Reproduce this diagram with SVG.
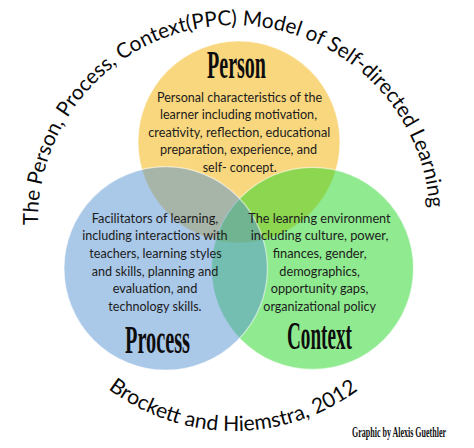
<svg xmlns="http://www.w3.org/2000/svg" width="474" height="448" viewBox="0 0 474 448">
<defs>
<style>
.arc{font-family:Lato,"Open Sans","Liberation Sans",sans-serif;font-size:21px;fill:#0a0a0a;}
.body{font-family:Lato,"Liberation Sans",sans-serif;font-size:12.5px;fill:#1c1c1c;}
.head{font-family:"Liberation Serif","DejaVu Serif",serif;font-weight:bold;font-size:40px;fill:#0d0d0d;}
.sig{font-family:"Liberation Serif","DejaVu Serif",serif;font-weight:bold;font-size:14px;fill:#111;}
.ring{stroke:#ffffff;stroke-opacity:0.55;stroke-width:1.2;}
</style>
<path id="titleArc" d="M38,225.1 A196,196 0 0 1 429.75,212.1"/>
<path id="creditArc" d="M108.2,388.9 A209,209 0 0 0 359.8,388.9"/>
</defs>
<rect width="474" height="448" fill="#ffffff"/>
<g id="circles">
<circle id="person-circle" class="ring" cx="239" cy="142" r="101" fill="#F9D77E"/>
<circle id="context-circle" class="ring" cx="312.5" cy="268.4" r="101" fill="rgb(33,213,33)" fill-opacity="0.5"/>
<circle id="process-circle" class="ring" cx="165.7" cy="268.4" r="101.7" fill="rgb(85,145,209)" fill-opacity="0.5"/>
</g>
<g id="person">
<text class="head" x="207" y="78.3" textLength="59" lengthAdjust="spacingAndGlyphs">Person</text>
<text class="body" x="157" y="101.7" textLength="165" lengthAdjust="spacingAndGlyphs">Personal characteristics of the</text>
<text class="body" x="160" y="119.2" textLength="157" lengthAdjust="spacingAndGlyphs">learner including motivation,</text>
<text class="body" x="148.3" y="136.8" textLength="182" lengthAdjust="spacingAndGlyphs">creativity, reflection, educational</text>
<text class="body" x="160" y="154.3" textLength="157" lengthAdjust="spacingAndGlyphs">preparation, experience, and</text>
<text class="body" x="202.7" y="171.8" textLength="74" lengthAdjust="spacingAndGlyphs">self- concept.</text>
</g>
<g id="process">
<text class="body" x="91.7" y="222.7" textLength="126.6" lengthAdjust="spacingAndGlyphs">Facilitators of learning,</text>
<text class="body" x="82.3" y="240.3" textLength="145.3" lengthAdjust="spacingAndGlyphs">including interactions with</text>
<text class="body" x="89.3" y="257.9" textLength="132.3" lengthAdjust="spacingAndGlyphs">teachers, learning styles</text>
<text class="body" x="91.7" y="275.5" textLength="126.7" lengthAdjust="spacingAndGlyphs">and skills, planning and</text>
<text class="body" x="112.7" y="293.2" textLength="84.7" lengthAdjust="spacingAndGlyphs">evaluation, and</text>
<text class="body" x="108.3" y="310.8" textLength="93.3" lengthAdjust="spacingAndGlyphs">technology skills.</text>
<text class="head" x="125" y="353" textLength="65" lengthAdjust="spacingAndGlyphs">Process</text>
</g>
<g id="context">
<text class="body" x="248.3" y="222.7" textLength="142.3" lengthAdjust="spacingAndGlyphs">The learning environment</text>
<text class="body" x="250.7" y="240.3" textLength="137.7" lengthAdjust="spacingAndGlyphs">including culture, power,</text>
<text class="body" x="272.7" y="257.9" textLength="94" lengthAdjust="spacingAndGlyphs">finances, gender,</text>
<text class="body" x="279.3" y="275.5" textLength="80.7" lengthAdjust="spacingAndGlyphs">demographics,</text>
<text class="body" x="270.7" y="293.2" textLength="97.7" lengthAdjust="spacingAndGlyphs">opportunity gaps,</text>
<text class="body" x="263.3" y="310.8" textLength="112.7" lengthAdjust="spacingAndGlyphs">organizational policy</text>
<text class="head" x="287" y="349" textLength="65" lengthAdjust="spacingAndGlyphs">Context</text>
</g>
<g id="title">
<text class="arc"><textPath href="#titleArc" textLength="606" lengthAdjust="spacingAndGlyphs">The Person, Process, Context(PPC) Model of Self-directed Learning</textPath></text>
</g>
<g id="citation">
<text class="arc"><textPath href="#creditArc" textLength="268" lengthAdjust="spacingAndGlyphs">Brockett and Hiemstra, 2012</textPath></text>
</g>
<g id="graphic-credit">
<text class="sig" transform="translate(352,436.7) scale(0.57,1)" x="0" y="0" textLength="165" lengthAdjust="spacingAndGlyphs">Graphic by Alexis Guethler</text>
</g>
</svg>
